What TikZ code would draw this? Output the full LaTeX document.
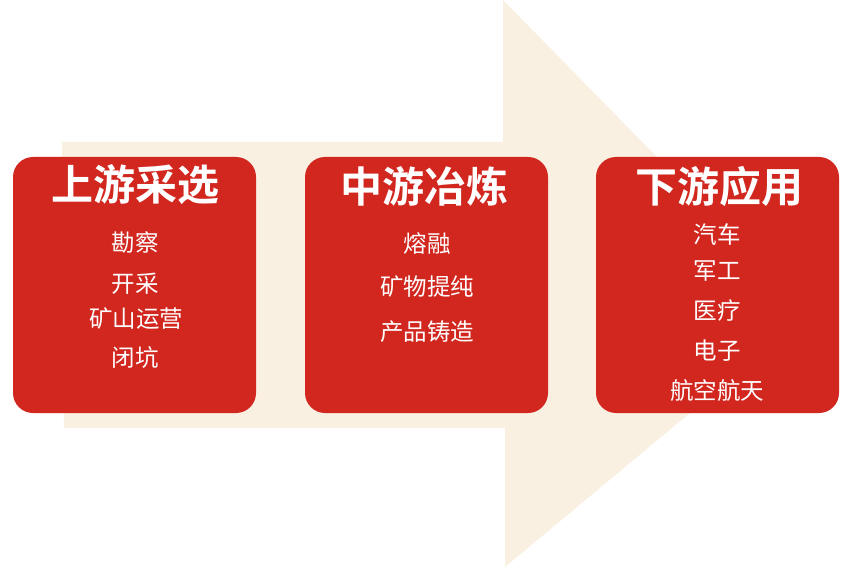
\documentclass[tikz,border=0pt]{standalone}
\usepackage{fontspec}
\newfontfamily\cjk{Noto Sans CJK SC}
\newfontfamily\cjkb{Noto Sans CJK SC Bold}
\definecolor{boxred}{HTML}{D1271F}
\definecolor{cream}{HTML}{FAF0E2}
\begin{document}
\begin{tikzpicture}[x=1pt,y=-1pt,
  stagebox/.style={fill=boxred,rounded corners=20pt},
  titletext/.style={text=white,font=\cjkb\fontsize{42}{42}\selectfont,inner sep=0pt,anchor=center},
  itemtext/.style={text=white,font=\cjk\fontsize{23.5}{23.5}\selectfont,inner sep=0pt,anchor=center}]
\useasboundingbox (0,0) rectangle (853,569);
% big arrow
\fill[cream] (62,142) -- (503,142) -- (503,0) -- (810,313) -- (505,567) -- (505,428) -- (64,428) -- cycle;
% boxes
\fill[stagebox] (13,157) rectangle (256,413);
\fill[stagebox] (305,157) rectangle (548,413);
\fill[stagebox] (596,157) rectangle (839,413);
% left
\node[titletext] (t1) at (135,185) {上游采选};
\node[itemtext] (a1) at (135,243) {勘察};
\node[itemtext] (a2) at (135,284) {开采};
\node[itemtext] (a3) at (136,319) {矿山运营};
\node[itemtext] (a4) at (135,358) {闭坑};
% middle
\node[titletext] (t2) at (424,186) {中游冶炼};
\node[itemtext] (b1) at (427,243) {熔融};
\node[itemtext] (b2) at (427,287) {矿物提纯};
\node[itemtext] (b3) at (427,332) {产品铸造};
% right
\node[titletext] (t3) at (719,186) {下游应用};
\node[itemtext] (c1) at (717,235) {汽车};
\node[itemtext] (c2) at (717,271) {军工};
\node[itemtext] (c3) at (717,311) {医疗};
\node[itemtext] (c4) at (717,351) {电子};
\node[itemtext] (c5) at (717,391) {航空航天};
\end{tikzpicture}
\end{document}
